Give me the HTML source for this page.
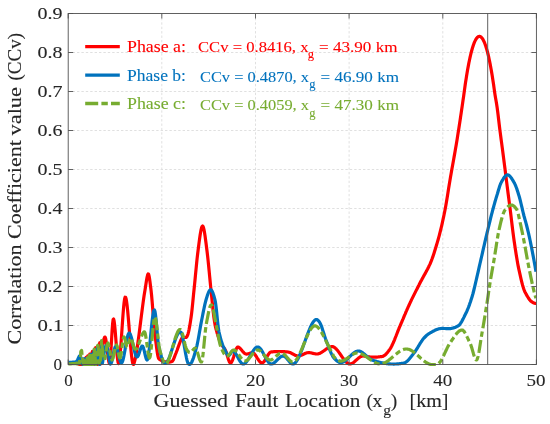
<!DOCTYPE html><html><head><meta charset="utf-8"><title>Correlation Coefficient</title>
<style>html,body{margin:0;padding:0;background:#fff;}svg{display:block}text{font-family:'Liberation Serif','DejaVu Serif',serif;}</style></head><body>
<svg width="550" height="424" viewBox="0 0 550 424">
<rect width="550" height="424" fill="#fff"/>
<g stroke="#e0e0e0" stroke-width="1" stroke-dasharray="2.4,2" fill="none"><line x1="161.8" y1="13.5" x2="161.8" y2="364.5"/><line x1="255.5" y1="13.5" x2="255.5" y2="364.5"/><line x1="349.1" y1="13.5" x2="349.1" y2="364.5"/><line x1="442.8" y1="13.5" x2="442.8" y2="364.5"/><line x1="68.2" y1="325.5" x2="536.4" y2="325.5"/><line x1="68.2" y1="286.5" x2="536.4" y2="286.5"/><line x1="68.2" y1="247.5" x2="536.4" y2="247.5"/><line x1="68.2" y1="208.5" x2="536.4" y2="208.5"/><line x1="68.2" y1="169.5" x2="536.4" y2="169.5"/><line x1="68.2" y1="130.5" x2="536.4" y2="130.5"/><line x1="68.2" y1="91.5" x2="536.4" y2="91.5"/><line x1="68.2" y1="52.5" x2="536.4" y2="52.5"/></g>
<clipPath id="c"><rect x="68.2" y="13.5" width="468.2" height="352.5"/></clipPath>
<g clip-path="url(#c)" fill="none" stroke-linejoin="round">
<path d="M68.2,363.4L69.1,363.4L70.1,363.4L71.0,363.4L71.9,363.3L72.9,363.3L73.8,363.2L74.8,363.1L75.7,363.0L75.8,363.0L75.9,363.0L76.0,362.9L76.1,363.1L76.2,363.1L76.3,362.9L76.3,363.0L76.4,363.2L76.5,362.9L76.6,362.9L76.7,363.2L76.8,363.2L76.9,362.8L77.0,362.9L77.1,363.4L77.2,363.3L77.3,362.8L77.4,362.8L77.5,363.3L77.6,363.6L77.7,363.1L77.8,362.6L77.8,362.9L77.9,363.6L78.0,363.7L78.1,363.0L78.2,362.5L78.3,362.9L78.4,363.7L78.5,364.0L78.6,363.3L78.7,362.5L78.8,362.4L78.9,363.2L79.0,364.1L79.1,364.2L79.2,363.3L79.2,362.3L79.3,362.1L79.4,362.9L79.5,364.0L79.6,364.5L79.7,363.9L79.8,362.8L79.9,361.9L80.0,361.9L80.1,362.8L80.2,363.9L80.3,364.5L80.4,364.1L80.5,363.1L80.6,361.9L80.7,361.4L80.7,361.8L80.8,362.8L80.9,363.9L81.0,364.5L81.1,364.2L81.2,363.2L81.3,362.0L81.4,361.1L81.5,360.9L81.6,361.6L81.7,362.7L81.8,363.8L81.9,364.5L82.0,364.3L82.1,363.5L82.2,362.2L82.2,361.1L82.3,360.4L82.4,360.4L82.5,361.1L82.6,362.3L82.7,363.4L82.8,364.3L82.9,364.5L83.0,364.0L83.1,362.9L83.2,361.6L83.3,360.4L83.4,359.7L83.5,359.5L83.6,360.0L83.7,361.1L83.7,362.3L83.8,363.5L83.9,364.3L84.0,364.5L84.1,364.1L84.2,363.1L84.3,361.9L84.4,360.5L84.5,359.4L84.6,358.7L84.7,358.6L84.8,359.0L84.9,359.9L85.0,361.1L85.1,362.4L85.1,363.5L85.2,364.3L85.3,364.5L85.4,364.2L85.5,363.4L85.6,362.2L85.7,360.8L85.8,359.5L85.9,358.4L86.0,357.6L86.1,357.4L86.2,357.6L86.3,358.3L86.4,359.4L86.5,360.6L86.6,361.9L86.6,363.1L86.7,364.0L86.8,364.4L86.9,364.5L87.0,364.0L87.1,363.2L87.2,362.0L87.3,360.7L87.4,359.3L87.5,358.1L87.6,357.0L87.7,356.3L87.8,356.0L87.9,356.1L88.0,356.6L88.1,357.5L88.1,358.6L88.2,359.9L88.3,361.1L88.4,362.3L88.5,363.4L88.6,364.1L88.7,364.5L88.8,364.5L88.9,364.1L89.0,363.4L89.1,362.3L89.2,361.1L89.3,359.7L89.4,358.4L89.5,357.1L89.5,355.9L89.6,355.0L89.7,354.4L89.8,354.1L89.9,354.2L90.0,354.6L90.1,355.3L90.2,356.2L90.3,357.4L90.4,358.6L90.5,359.9L90.6,361.2L90.7,362.3L90.8,363.2L90.9,364.0L91.0,364.4L91.0,364.5L91.1,364.3L91.2,363.8L91.3,363.0L91.4,362.0L91.5,360.8L91.6,359.5L91.7,358.1L91.8,356.7L91.9,355.4L92.0,354.2L92.1,353.2L92.2,352.3L92.3,351.8L92.4,351.4L92.5,351.4L92.5,351.7L92.6,352.2L92.7,352.9L92.8,353.9L92.9,355.0L93.0,356.2L93.1,357.5L93.2,358.8L93.3,360.0L93.4,361.2L93.5,362.3L93.6,363.1L93.7,363.8L93.8,364.3L93.9,364.5L94.0,364.5L94.0,364.2L94.1,363.7L94.2,362.9L94.3,362.0L94.4,360.9L94.5,359.7L94.6,358.3L94.7,356.9L94.8,355.5L94.9,354.2L95.0,352.8L95.1,351.6L95.2,350.5L95.3,349.6L95.4,348.8L95.4,348.2L95.5,347.9L95.6,347.7L95.7,347.8L95.8,348.1L95.9,348.6L96.0,349.2L96.1,350.1L96.2,351.1L96.3,352.2L96.4,353.3L96.5,354.6L96.6,355.9L96.7,357.2L96.8,358.4L96.9,359.6L96.9,360.7L97.0,361.7L97.1,362.6L97.2,363.3L97.3,363.9L97.4,364.3L97.5,364.5L97.6,364.5L97.7,364.3L97.8,364.0L97.9,363.4L98.0,362.7L98.1,361.9L98.2,360.9L98.3,359.8L98.4,358.6L98.4,357.3L98.5,355.9L98.6,354.6L98.7,353.2L98.8,351.8L98.9,350.4L99.0,349.2L99.1,347.9L99.2,346.8L99.3,345.8L99.4,344.9L99.5,344.1L99.6,343.5L99.7,343.0L99.8,342.7L99.9,342.6L99.9,342.6L100.0,342.8L100.1,343.1L100.2,343.5L100.3,344.1L100.4,344.9L100.5,345.7L100.6,346.7L100.6,364.0L101.1,359.4L101.6,355.0L102.1,350.7L102.6,346.8L103.1,343.4L103.6,340.5L104.1,338.5L104.6,337.3L105.1,337.1L105.6,338.4L106.1,341.1L106.6,344.7L107.1,348.9L107.6,353.3L108.1,357.3L108.6,360.6L109.1,362.8L109.6,363.5L110.1,361.2L110.6,355.5L111.1,347.7L111.6,339.1L112.1,330.7L112.6,323.8L113.1,319.6L113.6,319.0L114.1,321.0L114.6,324.8L115.1,330.0L115.6,336.1L116.1,342.7L116.6,349.1L117.1,354.9L117.6,359.6L118.1,362.6L118.6,363.6L119.1,362.2L119.6,359.1L120.1,354.4L120.6,348.6L121.1,342.0L121.6,334.8L122.1,327.5L122.6,320.3L123.1,313.5L123.6,307.5L124.1,302.5L124.6,299.0L125.1,297.2L125.6,297.3L126.1,298.8L126.6,301.6L127.1,305.5L127.6,310.2L128.1,315.6L128.6,321.5L129.1,327.6L129.6,333.9L130.1,340.0L130.6,345.9L131.1,351.3L131.6,356.0L132.1,359.9L132.6,362.7L133.1,364.3L133.6,364.4L134.1,363.1L134.6,361.4L135.1,359.4L135.6,357.0L136.1,354.3L136.6,351.4L137.1,348.2L137.6,344.9L138.1,341.3L138.6,337.7L139.1,333.9L139.6,330.0L140.1,326.0L140.6,322.0L141.1,318.1L141.6,314.1L142.1,310.2L142.6,306.4L143.1,302.6L143.6,299.1L144.1,295.6L144.6,292.4L145.1,289.4L145.6,286.3L146.1,283.0L146.6,279.8L147.1,277.1L147.6,275.0L148.1,273.9L148.6,274.2L149.1,276.1L149.6,279.0L150.1,282.7L150.6,286.8L151.1,290.8L151.6,295.5L152.1,301.2L152.6,307.3L153.1,313.7L153.6,320.1L154.1,326.1L154.6,331.4L155.1,335.8L155.6,339.9L156.1,343.9L156.6,347.8L157.1,351.3L157.6,354.4L158.1,356.8L158.6,358.4L159.1,359.1L159.6,359.4L160.1,359.7L160.6,360.1L161.1,360.3L161.6,360.6L162.1,360.9L162.6,361.1L163.1,361.3L163.6,361.4L164.1,361.6L164.6,361.6L165.1,361.7L165.6,361.8L166.1,361.8L166.6,361.9L167.1,362.0L167.6,362.0L168.1,362.0L168.6,362.1L169.1,362.1L169.6,362.1L170.1,362.0L170.6,361.9L171.1,361.8L171.6,361.7L172.1,361.4L172.6,361.0L173.1,360.2L173.6,359.2L174.1,357.9L174.6,356.6L175.1,355.3L175.6,354.0L176.1,352.8L176.6,351.5L177.1,350.2L177.6,348.8L178.1,347.4L178.6,346.0L179.1,344.6L179.6,343.3L180.1,342.0L180.6,340.7L181.1,339.6L181.6,338.6L182.1,338.0L182.6,337.5L183.1,337.4L183.6,337.3L184.1,337.4L184.6,337.5L185.1,337.5L185.6,337.5L186.1,337.4L186.6,337.0L187.1,336.3L187.6,335.2L188.1,333.7L188.6,331.7L189.1,329.3L189.6,326.6L190.1,323.7L190.6,320.6L191.1,317.3L191.6,313.5L192.1,309.0L192.6,304.1L193.1,299.0L193.6,293.9L194.1,289.0L194.6,284.1L195.1,279.0L195.6,273.7L196.1,268.6L196.6,263.5L197.1,258.7L197.6,254.3L198.1,250.2L198.6,246.3L199.1,242.4L199.6,238.7L200.1,235.3L200.6,232.2L201.1,229.6L201.6,227.6L202.1,226.4L202.6,226.0L203.1,226.6L203.6,228.0L204.1,230.2L204.6,233.0L205.1,236.3L205.6,240.0L206.1,243.8L206.6,247.8L207.1,251.8L207.6,256.0L208.1,260.7L208.6,265.6L209.1,270.7L209.6,275.9L210.1,281.0L210.6,286.1L211.1,291.0L211.6,295.9L212.1,300.9L212.6,305.9L213.1,310.6L213.6,315.0L214.1,318.7L214.6,322.0L215.1,324.9L215.6,327.4L216.1,329.4L216.6,331.1L217.1,332.9L217.6,334.5L218.1,336.2L218.6,337.7L219.1,339.1L219.6,340.5L220.1,341.7L220.6,342.8L221.1,343.8L221.6,344.6L222.1,345.4L222.6,346.1L223.1,346.8L223.6,347.4L224.1,348.1L224.6,348.9L225.1,349.7L225.6,350.7L226.1,351.9L226.6,353.4L227.1,355.0L227.6,356.7L228.1,358.4L228.6,359.9L229.1,361.2L229.6,362.2L230.1,362.9L230.6,363.0L231.1,362.8L231.6,362.1L232.1,361.1L232.6,359.9L233.1,358.5L233.6,357.0L234.1,355.3L234.6,353.7L235.1,352.1L235.6,350.6L236.1,349.3L236.6,348.3L237.1,347.5L237.6,347.1L238.1,347.0L238.6,347.2L239.1,347.5L239.6,347.9L240.1,348.4L240.6,348.9L241.1,349.5L241.6,350.1L242.1,350.7L242.6,351.3L243.1,351.8L243.6,352.4L244.1,352.9L244.6,353.3L245.1,353.6L245.6,353.9L246.1,354.0L246.6,354.1L247.1,354.0L247.6,354.0L248.1,353.8L248.6,353.7L249.1,353.5L249.6,353.4L250.1,353.2L250.6,353.0L251.1,352.9L251.6,352.9L252.1,352.8L252.6,352.9L253.1,353.0L253.6,353.3L254.1,353.7L254.6,354.2L255.1,354.8L255.6,355.5L256.1,356.2L256.6,357.0L257.1,357.8L257.6,358.6L258.1,359.3L258.6,360.1L259.1,360.8L259.6,361.4L260.1,362.0L260.6,362.4L261.1,362.8L261.6,363.0L262.1,363.0L262.6,362.8L263.1,362.5L263.6,362.1L264.1,361.5L264.6,360.8L265.1,360.0L265.6,359.2L266.1,358.3L266.6,357.4L267.1,356.5L267.6,355.6L268.1,354.8L268.6,354.1L269.1,353.4L269.6,352.8L270.1,352.4L270.6,352.1L271.1,352.0L271.6,351.9L272.1,351.9L272.6,351.8L273.1,351.8L273.6,351.7L274.1,351.7L274.6,351.6L275.1,351.6L275.6,351.6L276.1,351.6L276.6,351.5L277.1,351.5L277.6,351.5L278.1,351.5L278.6,351.5L279.1,351.5L279.6,351.5L280.1,351.5L280.6,351.5L281.1,351.5L281.6,351.6L282.1,351.6L282.6,351.6L283.1,351.6L283.6,351.7L284.1,351.7L284.6,351.7L285.1,351.7L285.6,351.8L286.1,351.8L286.6,351.9L287.1,351.9L287.6,352.0L288.1,352.0L288.6,352.1L289.1,352.2L289.6,352.4L290.1,352.6L290.6,352.8L291.1,353.1L291.6,353.3L292.1,353.6L292.6,353.9L293.1,354.1L293.6,354.4L294.1,354.7L294.6,355.0L295.1,355.2L295.6,355.4L296.1,355.6L296.6,355.8L297.1,355.9L297.6,356.0L298.1,356.0L298.6,356.0L299.1,355.9L299.6,355.8L300.1,355.7L300.6,355.5L301.1,355.3L301.6,355.1L302.1,354.9L302.6,354.7L303.1,354.4L303.6,354.2L304.1,353.9L304.6,353.7L305.1,353.5L305.6,353.2L306.1,353.1L306.6,352.9L307.1,352.8L307.6,352.7L308.1,352.6L308.6,352.6L309.1,352.6L309.6,352.6L310.1,352.7L310.6,352.8L311.1,352.9L311.6,353.0L312.1,353.1L312.6,353.2L313.1,353.4L313.6,353.5L314.1,353.6L314.6,353.7L315.1,353.8L315.6,353.9L316.1,354.0L316.6,354.0L317.1,354.0L317.6,354.0L318.1,353.9L318.6,353.8L319.1,353.6L319.6,353.4L320.1,353.2L320.6,352.9L321.1,352.6L321.6,352.3L322.1,352.0L322.6,351.7L323.1,351.3L323.6,351.0L324.1,350.6L324.6,350.3L325.1,349.9L325.6,349.5L326.1,349.2L326.6,348.8L327.1,348.5L327.6,348.2L328.1,347.9L328.6,347.6L329.1,347.4L329.6,347.2L330.1,347.0L330.6,346.8L331.1,346.7L331.6,346.6L332.1,346.6L332.6,346.6L333.1,346.8L333.6,347.0L334.1,347.2L334.6,347.5L335.1,347.9L335.6,348.4L336.1,348.8L336.6,349.4L337.1,350.0L337.6,350.6L338.1,351.2L338.6,351.9L339.1,352.6L339.6,353.3L340.1,354.0L340.6,354.7L341.1,355.5L341.6,356.2L342.1,356.9L342.6,357.6L343.1,358.3L343.6,359.0L344.1,359.7L344.6,360.3L345.1,360.9L345.6,361.4L346.1,362.0L346.6,362.4L347.1,362.8L347.6,363.2L348.1,363.5L348.6,363.7L349.1,363.9L349.6,364.0L350.1,364.0L350.6,363.9L351.1,363.8L351.6,363.6L352.1,363.4L352.6,363.1L353.1,362.8L353.6,362.4L354.1,362.0L354.6,361.6L355.1,361.2L355.6,360.7L356.1,360.2L356.6,359.8L357.1,359.3L357.6,358.9L358.1,358.4L358.6,358.0L359.1,357.6L359.6,357.3L360.1,356.9L360.6,356.6L361.1,356.4L361.6,356.2L362.1,356.1L362.6,356.0L363.1,356.0L363.6,356.0L364.1,356.1L364.6,356.1L365.1,356.2L365.6,356.3L366.1,356.4L366.6,356.4L367.1,356.5L367.6,356.6L368.1,356.7L368.6,356.8L369.1,356.9L369.6,356.9L370.1,357.0L370.6,357.1L371.1,357.1L371.6,357.2L372.1,357.2L372.6,357.2L373.1,357.2L373.6,357.2L374.1,357.2L374.6,357.2L375.1,357.2L375.6,357.2L376.1,357.1L376.6,357.1L377.1,357.1L377.6,357.0L378.1,357.0L378.6,356.9L379.1,356.9L379.6,356.8L380.1,356.7L380.6,356.7L381.1,356.6L381.6,356.6L382.1,356.5L382.6,356.4L383.1,356.2L383.6,356.0L384.1,355.7L384.6,355.3L385.1,354.9L385.6,354.5L386.1,354.0L386.6,353.4L387.1,352.9L387.6,352.3L388.1,351.6L388.6,351.0L389.1,350.3L389.6,349.6L390.1,348.9L390.6,348.1L391.1,347.2L391.6,346.3L392.1,345.3L392.6,344.2L393.1,343.1L393.6,342.0L394.1,340.8L394.6,339.6L395.1,338.3L395.6,337.0L396.1,335.8L396.6,334.5L397.1,333.2L397.6,331.9L398.1,330.6L398.6,329.4L399.1,328.1L399.6,326.9L400.1,325.8L400.6,324.6L401.1,323.5L401.6,322.3L402.1,321.1L402.6,319.9L403.1,318.8L403.6,317.6L404.1,316.4L404.6,315.2L405.1,314.1L405.6,312.9L406.1,311.7L406.6,310.6L407.1,309.4L407.6,308.3L408.1,307.2L408.6,306.1L409.1,305.0L409.6,303.9L410.1,302.8L410.6,301.7L411.1,300.7L411.6,299.6L412.1,298.6L412.6,297.6L413.1,296.6L413.6,295.6L414.1,294.6L414.6,293.6L415.1,292.6L415.6,291.6L416.1,290.6L416.6,289.6L417.1,288.7L417.6,287.7L418.1,286.7L418.6,285.7L419.1,284.8L419.6,283.8L420.1,282.8L420.6,281.8L421.1,280.9L421.6,280.0L422.1,279.0L422.6,278.1L423.1,277.2L423.6,276.3L424.1,275.4L424.6,274.5L425.1,273.6L425.6,272.7L426.1,271.8L426.6,270.9L427.1,269.9L427.6,269.0L428.1,268.0L428.6,267.0L429.1,265.9L429.6,264.9L430.1,263.8L430.6,262.6L431.1,261.4L431.6,260.1L432.1,258.8L432.6,257.4L433.1,255.9L433.6,254.4L434.1,252.9L434.6,251.3L435.1,249.7L435.6,248.1L436.1,246.5L436.6,244.8L437.1,243.1L437.6,241.4L438.1,239.7L438.6,237.9L439.1,236.1L439.6,234.2L440.1,232.2L440.6,230.2L441.1,228.1L441.6,226.0L442.1,223.8L442.6,221.5L443.1,219.2L443.6,216.9L444.1,214.5L444.6,212.0L445.1,209.5L445.6,206.8L446.1,204.0L446.6,201.1L447.1,198.0L447.6,194.9L448.1,191.7L448.6,188.6L449.1,185.4L449.6,182.4L450.1,179.4L450.6,176.5L451.1,173.7L451.6,170.8L452.1,168.0L452.6,165.2L453.1,162.5L453.6,159.7L454.1,156.9L454.6,154.1L455.1,151.2L455.6,148.3L456.1,145.4L456.6,142.4L457.1,139.4L457.6,136.3L458.1,133.1L458.6,130.0L459.1,126.7L459.6,123.5L460.1,120.2L460.6,116.8L461.1,113.5L461.6,110.1L462.1,106.7L462.6,103.2L463.1,99.8L463.6,96.4L464.1,92.8L464.6,89.1L465.1,85.5L465.6,82.1L466.1,78.9L466.6,75.7L467.1,72.7L467.6,69.8L468.1,67.1L468.6,64.4L469.1,61.8L469.6,59.5L470.1,57.2L470.6,55.0L471.1,52.9L471.6,51.0L472.1,49.2L472.6,47.5L473.1,45.9L473.6,44.5L474.1,43.1L474.6,41.9L475.1,40.9L475.6,39.9L476.1,39.0L476.6,38.3L477.1,37.7L477.6,37.2L478.1,36.8L478.6,36.6L479.1,36.4L479.6,36.4L480.1,36.5L480.6,36.7L481.1,37.1L481.6,37.6L482.1,38.1L482.6,38.9L483.1,39.7L483.6,40.7L484.1,41.7L484.6,42.9L485.1,44.2L485.6,45.6L486.1,47.2L486.6,48.9L487.1,50.6L487.6,52.5L488.1,54.5L488.6,56.7L489.1,59.0L489.6,61.4L490.1,63.9L490.6,66.5L491.1,69.3L491.6,72.1L492.1,75.1L492.6,78.2L493.1,81.5L493.6,84.8L494.1,88.4L494.6,92.0L495.1,95.3L495.6,98.2L496.1,101.0L496.6,103.9L497.1,107.2L497.6,111.0L498.1,115.0L498.6,119.3L499.1,123.5L499.6,127.7L500.1,131.6L500.6,135.4L501.1,139.2L501.6,142.9L502.1,146.6L502.6,150.4L503.1,154.2L503.6,158.1L504.1,162.0L504.6,165.9L505.1,169.8L505.6,173.7L506.1,177.7L506.6,181.6L507.1,185.6L507.6,189.5L508.1,193.5L508.6,197.3L509.1,201.1L509.6,204.9L510.1,208.8L510.6,212.8L511.1,216.9L511.6,221.1L512.1,225.3L512.6,229.4L513.1,233.3L513.6,237.1L514.1,240.7L514.6,244.1L515.1,247.5L515.6,250.8L516.1,254.0L516.6,257.1L517.1,260.1L517.6,263.0L518.1,265.6L518.6,268.1L519.1,270.4L519.6,272.7L520.1,274.9L520.6,277.1L521.1,279.3L521.6,281.3L522.1,283.3L522.6,285.2L523.1,286.9L523.6,288.5L524.1,289.9L524.6,291.2L525.1,292.2L525.6,293.1L526.1,294.1L526.6,295.0L527.1,295.9L527.6,296.7L528.1,297.5L528.6,298.3L529.1,299.0L529.6,299.7L530.1,300.3L530.6,300.9L531.1,301.3L531.6,301.7L532.1,302.1L532.6,302.3L533.1,302.6L533.6,302.9L534.1,303.1L534.6,303.3L535.1,303.4L535.6,303.5L536.1,303.5" stroke="#ff0000" stroke-width="3.2"/>
<path d="M68.2,362.4L69.1,362.4L70.1,362.4L71.0,362.3L71.9,362.3L72.9,362.2L73.8,362.1L74.8,362.0L75.7,361.8L75.8,361.9L75.9,361.8L76.0,361.8L76.1,361.9L76.2,361.6L76.3,361.8L76.3,362.0L76.4,361.5L76.5,361.5L76.6,362.0L76.7,361.6L76.8,361.0L76.9,361.5L77.0,361.8L77.1,361.0L77.2,360.6L77.3,361.3L77.4,361.5L77.5,360.5L77.6,359.9L77.7,360.6L77.8,361.1L77.8,360.2L77.9,359.0L78.0,359.2L78.1,360.3L78.2,360.3L78.3,358.9L78.4,357.8L78.5,358.3L78.6,359.6L78.7,359.8L78.8,358.4L78.9,356.9L79.0,356.9L79.1,358.4L79.2,359.6L79.2,359.2L79.3,357.4L79.4,356.1L79.5,356.5L79.6,358.3L79.7,359.8L79.8,359.7L79.9,358.2L80.0,356.6L80.1,356.3L80.2,357.5L80.3,359.5L80.4,360.8L80.5,360.6L80.6,359.3L80.7,357.7L80.7,357.2L80.8,358.0L80.9,359.9L81.0,361.6L81.1,362.4L81.2,361.9L81.3,360.4L81.4,359.0L81.5,358.4L81.6,358.9L81.7,360.5L81.8,362.2L81.9,363.5L82.0,363.6L82.1,362.8L82.2,361.3L82.2,359.9L82.3,359.1L82.4,359.4L82.5,360.5L82.6,362.1L82.7,363.5L82.8,364.3L82.9,364.1L83.0,363.2L83.1,361.8L83.2,360.4L83.3,359.4L83.4,359.2L83.5,359.8L83.6,361.0L83.7,362.4L83.7,363.7L83.8,364.4L83.9,364.4L84.0,363.7L84.1,362.5L84.2,361.2L84.3,360.0L84.4,359.2L84.5,359.0L84.6,359.5L84.7,360.5L84.8,361.7L84.9,363.0L85.0,364.0L85.1,364.5L85.1,364.4L85.2,363.8L85.3,362.8L85.4,361.5L85.5,360.3L85.6,359.4L85.7,358.8L85.8,358.7L85.9,359.1L86.0,359.9L86.1,361.0L86.2,362.2L86.3,363.3L86.4,364.1L86.5,364.5L86.6,364.4L86.6,364.0L86.7,363.1L86.8,362.1L86.9,360.9L87.0,359.8L87.1,358.9L87.2,358.3L87.3,358.1L87.4,358.3L87.5,358.8L87.6,359.7L87.7,360.7L87.8,361.8L87.9,362.8L88.0,363.7L88.1,364.2L88.1,364.5L88.2,364.4L88.3,363.9L88.4,363.1L88.5,362.1L88.6,361.0L88.7,359.8L88.8,358.7L88.9,357.8L89.0,357.1L89.1,356.8L89.2,356.7L89.3,357.0L89.4,357.6L89.5,358.5L89.5,359.5L89.6,360.6L89.7,361.7L89.8,362.7L89.9,363.6L90.0,364.1L90.1,364.5L90.2,364.5L90.3,364.1L90.4,363.5L90.5,362.7L90.6,361.6L90.7,360.4L90.8,359.1L90.9,357.9L91.0,356.8L91.0,355.8L91.1,355.0L91.2,354.5L91.3,354.3L91.4,354.4L91.5,354.8L91.6,355.4L91.7,356.2L91.8,357.3L91.9,358.4L92.0,359.6L92.1,360.8L92.2,361.9L92.3,362.9L92.4,363.6L92.5,364.2L92.5,364.5L92.6,364.5L92.7,364.2L92.8,363.7L92.9,362.9L93.0,361.9L93.1,360.8L93.2,359.5L93.3,358.2L93.4,356.9L93.5,355.6L93.6,354.3L93.7,353.3L93.8,352.4L93.9,351.7L94.0,351.2L94.0,351.0L94.1,351.1L94.2,351.4L94.3,351.9L94.4,352.7L94.5,353.6L94.6,354.6L94.7,355.8L94.8,357.1L94.9,358.3L95.0,359.5L95.1,360.7L95.2,361.8L95.3,362.7L95.4,363.4L95.4,364.0L95.5,364.4L95.6,364.5L95.7,364.4L95.8,364.1L95.9,363.6L96.0,362.9L96.1,362.0L96.2,361.0L96.3,359.9L96.4,358.6L96.5,357.4L96.6,356.1L96.7,354.8L96.8,353.5L96.9,352.4L96.9,351.3L97.0,350.3L97.1,349.5L97.2,348.9L97.3,348.4L97.4,348.1L97.5,348.0L97.6,348.1L97.7,348.4L97.8,348.8L97.9,349.5L98.0,350.2L98.1,351.1L98.2,352.1L98.3,353.1L98.4,354.2L98.4,355.4L98.5,356.6L98.6,357.7L98.7,358.9L98.8,359.9L98.9,360.9L99.0,361.8L99.1,362.6L99.2,363.3L99.3,363.8L99.4,364.2L99.5,364.4L99.6,364.5L99.7,364.4L99.8,364.2L99.9,363.8L99.9,363.3L100.0,362.7L100.1,361.9L100.2,361.1L100.3,360.1L100.4,359.1L100.5,358.0L100.6,356.9L100.7,355.7L100.8,354.6L100.9,353.4L101.0,352.3L101.1,351.3L101.2,350.2L101.3,349.3L101.3,348.4L101.4,347.7L101.5,347.0L101.6,346.4L101.7,346.0L101.8,345.7L101.9,345.5L102.0,345.4L102.1,345.4L102.2,345.6L102.3,345.9L102.4,346.3L102.5,346.8L102.5,363.0L103.0,359.8L103.5,356.6L104.0,353.6L104.5,350.8L105.0,348.5L105.5,346.7L106.0,345.7L106.5,345.5L107.0,346.3L107.5,348.3L108.0,351.1L108.5,354.4L109.0,357.7L109.5,360.7L110.0,362.9L110.5,364.0L111.0,363.7L111.5,362.5L112.0,360.7L112.5,358.5L113.0,356.0L113.5,353.4L114.0,351.0L114.5,348.9L115.0,347.3L115.5,346.5L116.0,346.5L116.5,347.3L117.0,348.5L117.5,350.2L118.0,352.2L118.5,354.3L119.0,356.5L119.5,358.5L120.0,360.3L120.5,361.7L121.0,362.7L121.5,363.0L122.0,362.6L122.5,361.6L123.0,360.0L123.5,357.9L124.0,355.5L124.5,352.8L125.0,350.0L125.5,347.1L126.0,344.2L126.5,341.4L127.0,338.9L127.5,336.7L128.0,334.9L128.5,333.7L129.0,333.1L129.5,333.1L130.0,333.7L130.5,334.8L131.0,336.2L131.5,338.0L132.0,340.0L132.5,342.2L133.0,344.5L133.5,346.8L134.0,349.0L134.5,351.1L135.0,353.0L135.5,354.6L136.0,355.9L136.5,356.7L137.0,357.0L137.5,356.8L138.0,356.1L138.5,355.0L139.0,353.6L139.5,352.1L140.0,350.6L140.5,349.1L141.0,347.8L141.5,346.8L142.0,346.1L142.5,346.0L143.0,346.7L143.5,348.1L144.0,349.9L144.5,352.0L145.0,354.2L145.5,356.3L146.0,358.1L146.5,359.4L147.0,360.0L147.5,359.5L148.0,357.8L148.5,355.1L149.0,351.4L149.5,347.1L150.0,342.3L150.5,337.2L151.0,332.0L151.5,327.0L152.0,322.2L152.5,318.0L153.0,314.5L153.5,311.8L154.0,310.3L154.5,310.0L155.0,311.5L155.5,314.7L156.0,319.2L156.5,324.5L157.0,330.3L157.5,335.9L158.0,341.1L158.5,345.2L159.0,348.0L159.5,349.9L160.0,351.8L160.5,353.6L161.0,355.3L161.5,357.0L162.0,358.5L162.5,359.9L163.0,361.1L163.5,362.0L164.0,362.8L164.5,363.3L165.0,363.5L165.5,363.5L166.0,363.2L166.5,362.7L167.0,362.0L167.5,361.2L168.0,360.3L168.5,359.2L169.0,358.1L169.5,356.8L170.0,355.5L170.5,354.1L171.0,352.6L171.5,351.1L172.0,349.5L172.5,348.0L173.0,346.4L173.5,344.9L174.0,343.4L174.5,341.9L175.0,340.4L175.5,339.1L176.0,337.8L176.5,336.6L177.0,335.5L177.5,334.5L178.0,333.7L178.5,333.0L179.0,332.5L179.5,332.1L180.0,331.9L180.5,332.0L181.0,332.3L181.5,333.3L182.0,334.8L182.5,336.7L183.0,339.0L183.5,341.6L184.0,344.3L184.5,347.2L185.0,350.0L185.5,352.9L186.0,355.5L186.5,358.0L187.0,360.2L187.5,361.9L188.0,363.2L188.5,364.0L189.0,364.3L189.5,364.4L190.0,364.2L190.5,363.9L191.0,363.3L191.5,362.5L192.0,361.6L192.5,360.4L193.0,359.2L193.5,357.8L194.0,356.2L194.5,354.6L195.0,352.9L195.5,351.1L196.0,349.2L196.5,347.3L197.0,345.3L197.5,343.0L198.0,340.5L198.5,337.8L199.0,335.0L199.5,332.1L200.0,329.2L200.5,326.3L201.0,323.6L201.5,321.0L202.0,318.5L202.5,316.0L203.0,313.4L203.5,310.9L204.0,308.5L204.5,306.1L205.0,303.9L205.5,301.9L206.0,300.0L206.5,298.3L207.0,296.7L207.5,295.1L208.0,293.7L208.5,292.5L209.0,291.4L209.5,290.6L210.0,290.0L210.5,289.7L211.0,289.8L211.5,290.2L212.0,291.0L212.5,292.0L213.0,293.2L213.5,294.7L214.0,296.3L214.5,298.1L215.0,300.0L215.5,302.6L216.0,306.3L216.5,310.8L217.0,315.7L217.5,320.6L218.0,325.2L218.5,329.1L219.0,332.0L219.5,334.2L220.0,336.2L220.5,338.1L221.0,339.9L221.5,341.6L222.0,343.1L222.5,344.5L223.0,345.8L223.5,347.0L224.0,348.0L224.5,349.0L225.0,350.1L225.5,351.2L226.0,352.2L226.5,353.2L227.0,354.1L227.5,354.8L228.0,355.2L228.5,355.5L229.0,355.4L229.5,355.0L230.0,354.4L230.5,353.7L231.0,352.9L231.5,352.1L232.0,351.5L232.5,351.1L233.0,351.0L233.5,351.2L234.0,351.5L234.5,352.0L235.0,352.6L235.5,353.3L236.0,354.1L236.5,354.9L237.0,355.8L237.5,356.7L238.0,357.6L238.5,358.6L239.0,359.5L239.5,360.4L240.0,361.2L240.5,361.9L241.0,362.6L241.5,363.1L242.0,363.6L242.5,363.9L243.0,364.0L243.5,364.0L244.0,363.9L244.5,363.6L245.0,363.3L245.5,362.9L246.0,362.3L246.5,361.8L247.0,361.1L247.5,360.4L248.0,359.6L248.5,358.8L249.0,358.0L249.5,357.2L250.0,356.3L250.5,355.4L251.0,354.5L251.5,353.7L252.0,352.8L252.5,352.0L253.0,351.2L253.5,350.4L254.0,349.7L254.5,349.1L255.0,348.5L255.5,348.0L256.0,347.6L256.5,347.3L257.0,347.1L257.5,347.0L258.0,347.0L258.5,347.1L259.0,347.4L259.5,347.8L260.0,348.3L260.5,348.8L261.0,349.5L261.5,350.2L262.0,351.0L262.5,351.9L263.0,352.8L263.5,353.7L264.0,354.7L264.5,355.6L265.0,356.6L265.5,357.5L266.0,358.4L266.5,359.3L267.0,360.1L267.5,360.9L268.0,361.6L268.5,362.3L269.0,362.8L269.5,363.3L270.0,363.7L270.5,363.9L271.0,364.0L271.5,364.0L272.0,363.9L272.5,363.8L273.0,363.5L273.5,363.3L274.0,362.9L274.5,362.5L275.0,362.1L275.5,361.7L276.0,361.2L276.5,360.7L277.0,360.2L277.5,359.7L278.0,359.2L278.5,358.7L279.0,358.3L279.5,357.8L280.0,357.4L280.5,357.0L281.0,356.7L281.5,356.4L282.0,356.2L282.5,356.1L283.0,356.0L283.5,356.0L284.0,356.2L284.5,356.4L285.0,356.8L285.5,357.2L286.0,357.7L286.5,358.2L287.0,358.8L287.5,359.4L288.0,360.0L288.5,360.6L289.0,361.2L289.5,361.8L290.0,362.4L290.5,362.8L291.0,363.3L291.5,363.6L292.0,363.8L292.5,364.0L293.0,364.0L293.5,363.9L294.0,363.7L294.5,363.4L295.0,363.0L295.5,362.5L296.0,361.9L296.5,361.2L297.0,360.4L297.5,359.6L298.0,358.7L298.5,357.7L299.0,356.6L299.5,355.5L300.0,354.4L300.5,353.2L301.0,352.0L301.5,350.7L302.0,349.4L302.5,348.1L303.0,346.7L303.5,345.3L304.0,343.9L304.5,342.6L305.0,341.2L305.5,339.8L306.0,338.4L306.5,337.0L307.0,335.6L307.5,334.3L308.0,333.0L308.5,331.7L309.0,330.5L309.5,329.3L310.0,328.1L310.5,327.0L311.0,325.9L311.5,324.9L312.0,324.0L312.5,323.1L313.0,322.3L313.5,321.6L314.0,321.0L314.5,320.4L315.0,320.0L315.5,319.7L316.0,319.5L316.5,319.5L317.0,319.6L317.5,319.9L318.0,320.3L318.5,320.8L319.0,321.4L319.5,322.2L320.0,323.0L320.5,324.0L321.0,325.1L321.5,326.4L322.0,327.8L322.5,329.4L323.0,330.9L323.5,332.5L324.0,334.1L324.5,335.7L325.0,337.2L325.5,338.7L326.0,340.0L326.5,341.3L327.0,342.6L327.5,343.9L328.0,345.2L328.5,346.6L329.0,347.9L329.5,349.2L330.0,350.4L330.5,351.7L331.0,352.8L331.5,353.9L332.0,354.9L332.5,355.9L333.0,356.7L333.5,357.4L334.0,358.0L334.5,358.5L335.0,359.0L335.5,359.5L336.0,360.0L336.5,360.5L337.0,360.9L337.5,361.3L338.0,361.6L338.5,361.9L339.0,362.2L339.5,362.4L340.0,362.5L340.5,362.6L341.0,362.6L341.5,362.6L342.0,362.5L342.5,362.3L343.0,362.1L343.5,361.9L344.0,361.6L344.5,361.3L345.0,360.9L345.5,360.5L346.0,360.1L346.5,359.7L347.0,359.2L347.5,358.8L348.0,358.3L348.5,357.8L349.0,357.3L349.5,356.8L350.0,356.3L350.5,355.9L351.0,355.4L351.5,354.9L352.0,354.4L352.5,354.0L353.0,353.6L353.5,353.2L354.0,352.8L354.5,352.4L355.0,352.1L355.5,351.8L356.0,351.6L356.5,351.4L357.0,351.2L357.5,351.1L358.0,351.0L358.5,351.0L359.0,351.0L359.5,351.1L360.0,351.2L360.5,351.4L361.0,351.7L361.5,351.9L362.0,352.3L362.5,352.6L363.0,353.0L363.5,353.4L364.0,353.8L364.5,354.2L365.0,354.7L365.5,355.1L366.0,355.6L366.5,356.1L367.0,356.5L367.5,357.0L368.0,357.4L368.5,357.8L369.0,358.2L369.5,358.6L370.0,359.0L370.5,359.3L371.0,359.6L371.5,359.8L372.0,360.0L372.5,360.2L373.0,360.3L373.5,360.5L374.0,360.7L374.5,360.8L375.0,361.0L375.5,361.1L376.0,361.3L376.5,361.4L377.0,361.6L377.5,361.7L378.0,361.8L378.5,362.0L379.0,362.1L379.5,362.2L380.0,362.4L380.5,362.5L381.0,362.6L381.5,362.7L382.0,362.8L382.5,362.9L383.0,363.0L383.5,363.1L384.0,363.2L384.5,363.3L385.0,363.3L385.5,363.4L386.0,363.5L386.5,363.6L387.0,363.6L387.5,363.7L388.0,363.8L388.5,363.8L389.0,363.8L389.5,363.9L390.0,363.9L390.5,364.0L391.0,364.0L391.5,364.0L392.0,364.0L392.5,364.0L393.0,364.0L393.5,364.1L394.0,364.1L394.5,364.0L395.0,364.0L395.5,364.0L396.0,364.0L396.5,364.0L397.0,363.9L397.5,363.9L398.0,363.9L398.5,363.8L399.0,363.8L399.5,363.7L400.0,363.7L400.5,363.6L401.0,363.5L401.5,363.4L402.0,363.4L402.5,363.3L403.0,363.2L403.5,363.1L404.0,363.0L404.5,362.9L405.0,362.7L405.5,362.4L406.0,362.1L406.5,361.7L407.0,361.3L407.5,360.9L408.0,360.4L408.5,359.8L409.0,359.3L409.5,358.7L410.0,358.1L410.5,357.5L411.0,356.8L411.5,356.2L412.0,355.5L412.5,354.9L413.0,354.3L413.5,353.6L414.0,353.0L414.5,352.4L415.0,351.7L415.5,351.0L416.0,350.2L416.5,349.4L417.0,348.6L417.5,347.8L418.0,347.0L418.5,346.2L419.0,345.3L419.5,344.5L420.0,343.7L420.5,342.8L421.0,342.1L421.5,341.3L422.0,340.6L422.5,339.8L423.0,339.2L423.5,338.6L424.0,338.0L424.5,337.5L425.0,337.0L425.5,336.5L426.0,336.0L426.5,335.5L427.0,335.1L427.5,334.7L428.0,334.3L428.5,333.9L429.0,333.6L429.5,333.3L430.0,333.0L430.5,332.7L431.0,332.4L431.5,332.2L432.0,331.9L432.5,331.6L433.0,331.3L433.5,331.1L434.0,330.8L434.5,330.5L435.0,330.3L435.5,330.1L436.0,329.8L436.5,329.6L437.0,329.4L437.5,329.2L438.0,329.1L438.5,328.9L439.0,328.8L439.5,328.7L440.0,328.6L440.5,328.5L441.0,328.5L441.5,328.5L442.0,328.4L442.5,328.4L443.0,328.4L443.5,328.4L444.0,328.5L444.5,328.5L445.0,328.5L445.5,328.5L446.0,328.6L446.5,328.6L447.0,328.6L447.5,328.6L448.0,328.6L448.5,328.7L449.0,328.6L449.5,328.6L450.0,328.6L450.5,328.6L451.0,328.5L451.5,328.4L452.0,328.3L452.5,328.2L453.0,328.0L453.5,327.9L454.0,327.7L454.5,327.5L455.0,327.4L455.5,327.2L456.0,326.9L456.5,326.7L457.0,326.5L457.5,326.2L458.0,326.0L458.5,325.7L459.0,325.3L459.5,324.8L460.0,324.1L460.5,323.5L461.0,322.7L461.5,321.9L462.0,321.0L462.5,320.0L463.0,319.1L463.5,318.1L464.0,317.1L464.5,316.0L465.0,315.0L465.5,314.0L466.0,313.0L466.5,312.0L467.0,310.9L467.5,309.7L468.0,308.5L468.5,307.3L469.0,305.9L469.5,304.6L470.0,303.1L470.5,301.7L471.0,300.1L471.5,298.6L472.0,297.0L472.5,295.3L473.0,293.5L473.5,291.5L474.0,289.5L474.5,287.4L475.0,285.3L475.5,283.1L476.0,281.0L476.5,278.9L477.0,276.7L477.5,274.5L478.0,272.3L478.5,270.1L479.0,267.9L479.5,265.7L480.0,263.5L480.5,261.3L481.0,259.1L481.5,257.0L482.0,254.8L482.5,252.6L483.0,250.4L483.5,248.2L484.0,246.1L484.5,243.9L485.0,241.7L485.5,239.6L486.0,237.4L486.5,235.3L487.0,233.2L487.5,231.1L488.0,229.0L488.5,226.9L489.0,224.9L489.5,222.8L490.0,220.8L490.5,218.7L491.0,216.7L491.5,214.7L492.0,212.8L492.5,210.9L493.0,209.0L493.5,207.2L494.0,205.4L494.5,203.6L495.0,201.8L495.5,200.1L496.0,198.4L496.5,196.8L497.0,195.1L497.5,193.5L498.0,191.7L498.5,190.0L499.0,188.4L499.5,186.8L500.0,185.3L500.5,184.0L501.0,182.9L501.5,181.9L502.0,181.0L502.5,180.1L503.0,179.3L503.5,178.4L504.0,177.7L504.5,177.0L505.0,176.4L505.5,175.9L506.0,175.5L506.5,175.2L507.0,175.0L507.5,174.9L508.0,174.9L508.5,175.1L509.0,175.4L509.5,175.8L510.0,176.3L510.5,176.9L511.0,177.5L511.5,178.3L512.0,179.0L512.5,179.8L513.0,180.6L513.5,181.5L514.0,182.4L514.5,183.2L515.0,184.3L515.5,185.4L516.0,186.7L516.5,188.0L517.0,189.4L517.5,191.0L518.0,192.5L518.5,194.2L519.0,195.8L519.5,197.5L520.0,199.4L520.5,201.4L521.0,203.5L521.5,205.6L522.0,207.7L522.5,209.9L523.0,212.0L523.5,214.0L524.0,216.0L524.5,217.8L525.0,219.6L525.5,221.3L526.0,223.1L526.5,225.0L527.0,227.0L527.5,229.0L528.0,231.1L528.5,233.2L529.0,235.4L529.5,237.7L530.0,240.0L530.5,242.4L531.0,244.8L531.5,247.3L532.0,249.9L532.5,252.5L533.0,255.1L533.5,257.8L534.0,260.5L534.5,263.3L535.0,266.0L535.5,268.9L536.0,271.7" stroke="#0072bd" stroke-width="3.2"/>
<path d="M68.2,363.8L69.1,363.8L70.1,363.8L71.0,363.8L71.9,363.7L72.9,363.7L73.8,363.7L74.8,363.6L75.7,363.6L75.8,363.6L75.9,363.6L76.0,363.5L76.1,363.6L76.2,363.6L76.3,363.5L76.3,363.6L76.4,363.7L76.5,363.5L76.6,363.6L76.7,363.8L76.8,363.6L76.9,363.5L77.0,363.7L77.1,363.8L77.2,363.5L77.3,363.5L77.4,363.8L77.5,363.9L77.6,363.5L77.7,363.4L77.8,363.8L77.8,364.0L77.9,363.7L78.0,363.3L78.1,363.5L78.2,364.0L78.3,364.0L78.4,363.5L78.5,363.2L78.6,363.5L78.7,364.0L78.8,364.1L78.9,363.5L79.0,362.9L79.1,362.8L79.2,363.3L79.2,363.7L79.3,363.3L79.4,362.4L79.5,361.5L79.6,361.3L79.7,361.6L79.8,361.7L79.9,361.1L80.0,359.9L80.1,358.5L80.2,357.5L80.3,357.1L80.4,357.0L80.5,356.7L80.6,355.8L80.7,354.4L80.7,352.9L80.8,351.8L80.9,351.4L81.0,351.6L81.1,352.0L81.2,352.1L81.3,351.8L81.4,351.2L81.5,350.6L81.6,350.4L81.7,351.0L81.8,352.1L81.9,353.6L82.0,355.0L82.1,355.9L82.2,356.4L82.2,356.5L82.3,356.4L82.4,356.6L82.5,357.3L82.6,358.4L82.7,359.7L82.8,361.1L82.9,362.1L83.0,362.6L83.1,362.6L83.2,362.1L83.3,361.5L83.4,361.0L83.5,360.8L83.6,361.1L83.7,361.8L83.7,362.7L83.8,363.5L83.9,364.2L84.0,364.4L84.1,364.2L84.2,363.5L84.3,362.7L84.4,361.8L84.5,361.0L84.6,360.7L84.7,360.7L84.8,361.2L84.9,362.0L85.0,362.9L85.1,363.7L85.1,364.3L85.2,364.5L85.3,364.2L85.4,363.6L85.5,362.6L85.6,361.6L85.7,360.6L85.8,359.8L85.9,359.4L86.0,359.4L86.1,359.9L86.2,360.7L86.3,361.7L86.4,362.7L86.5,363.6L86.6,364.3L86.6,364.5L86.7,364.3L86.8,363.7L86.9,362.8L87.0,361.7L87.1,360.4L87.2,359.3L87.3,358.4L87.4,357.8L87.5,357.6L87.6,357.9L87.7,358.5L87.8,359.4L87.9,360.6L88.0,361.7L88.1,362.8L88.1,363.7L88.2,364.3L88.3,364.5L88.4,364.3L88.5,363.7L88.6,362.8L88.7,361.6L88.8,360.2L88.9,358.9L89.0,357.6L89.1,356.5L89.2,355.8L89.3,355.4L89.4,355.4L89.5,355.7L89.5,356.4L89.6,357.4L89.7,358.6L89.8,359.9L89.9,361.2L90.0,362.4L90.1,363.4L90.2,364.1L90.3,364.5L90.4,364.5L90.5,364.1L90.6,363.4L90.7,362.4L90.8,361.1L90.9,359.7L91.0,358.2L91.0,356.8L91.1,355.4L91.2,354.3L91.3,353.4L91.4,352.8L91.5,352.5L91.6,352.6L91.7,353.0L91.8,353.7L91.9,354.7L92.0,355.9L92.1,357.2L92.2,358.6L92.3,360.0L92.4,361.2L92.5,362.4L92.5,363.3L92.6,364.0L92.7,364.4L92.8,364.5L92.9,364.3L93.0,363.7L93.1,362.9L93.2,361.9L93.3,360.6L93.4,359.2L93.5,357.7L93.6,356.2L93.7,354.7L93.8,353.3L93.9,352.1L94.0,351.0L94.0,350.1L94.1,349.6L94.2,349.2L94.3,349.2L94.4,349.4L94.5,350.0L94.6,350.7L94.7,351.7L94.8,352.8L94.9,354.1L95.0,355.5L95.1,356.9L95.2,358.3L95.3,359.6L95.4,360.9L95.4,362.0L95.5,362.9L95.6,363.7L95.7,364.2L95.8,364.5L95.9,364.5L96.0,364.3L96.1,363.8L96.2,363.1L96.3,362.2L96.4,361.2L96.5,359.9L96.6,358.6L96.7,357.1L96.8,355.7L96.9,354.2L96.9,352.7L97.0,351.3L97.1,349.9L97.2,348.7L97.3,347.7L97.4,346.8L97.5,346.1L97.6,345.6L97.7,345.4L97.8,345.3L97.9,345.4L98.0,345.8L98.1,346.3L98.2,347.1L98.3,348.0L98.4,349.0L98.4,350.2L98.5,351.4L98.6,352.7L98.7,354.1L98.8,355.5L98.9,356.8L99.0,358.1L99.1,359.3L99.2,360.5L99.3,361.5L99.4,362.4L99.5,363.2L99.6,363.8L99.7,364.2L99.8,364.4L99.9,364.5L99.9,364.4L100.0,364.1L100.1,363.6L100.2,363.0L100.3,362.2L100.4,361.3L100.5,360.2L100.6,359.1L100.7,357.8L100.8,356.5L100.9,355.2L101.0,353.8L101.1,352.3L101.2,350.9L101.3,349.6L101.3,348.3L101.4,347.0L101.5,340.5L102.0,345.3L102.5,350.1L103.0,354.4L103.5,357.8L104.0,359.8L104.5,360.0L105.0,358.4L105.5,355.7L106.0,352.3L106.5,348.8L107.0,345.7L107.5,343.6L108.0,343.0L108.5,344.0L109.0,346.0L109.5,348.8L110.0,351.8L110.5,354.9L111.0,357.5L111.5,359.3L112.0,360.0L112.5,359.5L113.0,358.1L113.5,356.1L114.0,353.8L114.5,351.3L115.0,349.0L115.5,347.0L116.0,345.6L116.5,345.0L117.0,345.7L117.5,347.5L118.0,350.1L118.5,352.9L119.0,355.5L119.5,357.3L120.0,358.0L120.5,357.0L121.0,354.6L121.5,351.3L122.0,347.5L122.5,343.6L123.0,340.3L123.5,337.9L124.0,337.0L124.5,337.6L125.0,339.3L125.5,341.5L126.0,343.9L126.5,345.8L127.0,346.9L127.5,346.8L128.0,345.6L128.5,343.8L129.0,341.8L129.5,339.9L130.0,338.5L130.5,338.0L131.0,338.4L131.5,339.3L132.0,340.7L132.5,342.3L133.0,344.0L133.5,345.7L134.0,347.2L134.5,348.3L135.0,349.0L135.5,349.2L136.0,349.1L136.5,348.7L137.0,348.0L137.5,347.1L138.0,346.0L138.5,344.8L139.0,343.4L139.5,342.0L140.0,340.6L140.5,339.1L141.0,337.7L141.5,336.3L142.0,335.1L142.5,334.0L143.0,333.1L143.5,332.4L144.0,331.9L144.5,331.8L145.0,332.7L145.5,334.8L146.0,337.7L146.5,341.2L147.0,344.9L147.5,348.7L148.0,352.2L148.5,355.1L149.0,357.1L149.5,358.0L150.0,357.2L150.5,354.6L151.0,350.5L151.5,345.5L152.0,339.9L152.5,334.2L153.0,328.6L153.5,323.7L154.0,319.9L154.5,317.5L155.0,317.0L155.5,318.3L156.0,320.7L156.5,324.1L157.0,328.2L157.5,332.6L158.0,337.2L158.5,341.6L159.0,345.5L159.5,348.8L160.0,351.0L160.5,352.7L161.0,354.3L161.5,356.0L162.0,357.5L162.5,359.0L163.0,360.4L163.5,361.6L164.0,362.6L164.5,363.4L165.0,363.9L165.5,364.1L166.0,364.0L166.5,363.6L167.0,363.0L167.5,362.2L168.0,361.3L168.5,360.2L169.0,358.9L169.5,357.6L170.0,356.1L170.5,354.5L171.0,352.9L171.5,351.2L172.0,349.4L172.5,347.7L173.0,345.9L173.5,344.2L174.0,342.4L174.5,340.7L175.0,339.1L175.5,337.5L176.0,336.1L176.5,334.7L177.0,333.5L177.5,332.3L178.0,331.4L178.5,330.6L179.0,330.0L179.5,329.6L180.0,329.5L180.5,329.6L181.0,330.0L181.5,330.9L182.0,332.2L182.5,333.8L183.0,335.7L183.5,337.8L184.0,340.0L184.5,342.1L185.0,344.2L185.5,346.1L186.0,347.8L186.5,349.1L187.0,350.0L187.5,350.7L188.0,351.3L188.5,351.8L189.0,352.2L189.5,352.4L190.0,352.5L190.5,352.4L191.0,352.0L191.5,351.6L192.0,351.1L192.5,350.5L193.0,349.9L193.5,349.3L194.0,348.8L194.5,348.3L195.0,348.0L195.5,348.0L196.0,348.6L196.5,349.6L197.0,350.9L197.5,352.4L198.0,354.1L198.5,355.8L199.0,357.5L199.5,359.1L200.0,360.4L200.5,361.4L201.0,362.0L201.5,362.0L202.0,360.9L202.5,358.3L203.0,354.5L203.5,349.8L204.0,344.7L204.5,339.4L205.0,334.2L205.5,329.6L206.0,325.8L206.5,323.0L207.0,320.3L207.5,317.7L208.0,315.1L208.5,312.6L209.0,310.3L209.5,308.3L210.0,306.7L210.5,305.6L211.0,305.0L211.5,304.9L212.0,305.6L212.5,306.9L213.0,308.8L213.5,311.0L214.0,313.5L214.5,316.2L215.0,318.9L215.5,321.5L216.0,324.0L216.5,326.5L217.0,329.1L217.5,331.8L218.0,334.6L218.5,337.3L219.0,339.9L219.5,342.2L220.0,344.3L220.5,345.9L221.0,347.3L221.5,348.5L222.0,349.7L222.5,350.8L223.0,351.8L223.5,352.7L224.0,353.6L224.5,354.3L225.0,355.0L225.5,355.5L226.0,355.8L226.5,356.0L227.0,356.1L227.5,356.0L228.0,355.7L228.5,355.3L229.0,354.8L229.5,354.2L230.0,353.6L230.5,352.9L231.0,352.2L231.5,351.6L232.0,351.0L232.5,350.6L233.0,350.2L233.5,350.0L234.0,350.0L234.5,350.1L235.0,350.4L235.5,350.8L236.0,351.2L236.5,351.7L237.0,352.3L237.5,352.9L238.0,353.6L238.5,354.3L239.0,355.0L239.5,355.7L240.0,356.5L240.5,357.2L241.0,357.8L241.5,358.5L242.0,359.1L242.5,359.6L243.0,360.1L243.5,360.5L244.0,360.8L244.5,360.9L245.0,361.0L245.5,361.0L246.0,360.8L246.5,360.6L247.0,360.3L247.5,359.9L248.0,359.5L248.5,359.0L249.0,358.5L249.5,357.9L250.0,357.3L250.5,356.7L251.0,356.0L251.5,355.4L252.0,354.7L252.5,354.1L253.0,353.5L253.5,352.9L254.0,352.3L254.5,351.8L255.0,351.4L255.5,350.9L256.0,350.6L256.5,350.3L257.0,350.1L257.5,350.0L258.0,350.0L258.5,350.1L259.0,350.3L259.5,350.5L260.0,350.8L260.5,351.2L261.0,351.7L261.5,352.2L262.0,352.7L262.5,353.3L263.0,353.8L263.5,354.4L264.0,355.1L264.5,355.7L265.0,356.3L265.5,356.8L266.0,357.4L266.5,357.9L267.0,358.4L267.5,358.8L268.0,359.2L268.5,359.5L269.0,359.8L269.5,359.9L270.0,360.0L270.5,360.0L271.0,359.9L271.5,359.7L272.0,359.5L272.5,359.2L273.0,358.9L273.5,358.5L274.0,358.1L274.5,357.7L275.0,357.2L275.5,356.8L276.0,356.3L276.5,355.8L277.0,355.4L277.5,355.0L278.0,354.5L278.5,354.2L279.0,353.8L279.5,353.5L280.0,353.3L280.5,353.1L281.0,353.0L281.5,353.0L282.0,353.1L282.5,353.2L283.0,353.5L283.5,353.8L284.0,354.2L284.5,354.6L285.0,355.1L285.5,355.6L286.0,356.2L286.5,356.8L287.0,357.4L287.5,358.0L288.0,358.5L288.5,359.1L289.0,359.6L289.5,360.2L290.0,360.6L290.5,361.0L291.0,361.4L291.5,361.7L292.0,361.9L292.5,362.0L293.0,362.0L293.5,361.9L294.0,361.7L294.5,361.4L295.0,361.0L295.5,360.6L296.0,360.0L296.5,359.4L297.0,358.7L297.5,357.9L298.0,357.0L298.5,356.1L299.0,355.2L299.5,354.2L300.0,353.1L300.5,352.0L301.0,350.9L301.5,349.7L302.0,348.6L302.5,347.4L303.0,346.1L303.5,344.9L304.0,343.7L304.5,342.5L305.0,341.3L305.5,340.0L306.0,338.9L306.5,337.7L307.0,336.5L307.5,335.4L308.0,334.3L308.5,333.3L309.0,332.3L309.5,331.4L310.0,330.5L310.5,329.7L311.0,328.9L311.5,328.2L312.0,327.6L312.5,327.1L313.0,326.6L313.5,326.3L314.0,326.0L314.5,325.8L315.0,325.8L315.5,325.9L316.0,326.0L316.5,326.3L317.0,326.6L317.5,327.1L318.0,327.5L318.5,328.1L319.0,328.7L319.5,329.3L320.0,330.0L320.5,330.7L321.0,331.5L321.5,332.3L322.0,333.2L322.5,334.1L323.0,335.1L323.5,336.1L324.0,337.1L324.5,338.1L325.0,339.1L325.5,340.1L326.0,341.1L326.5,342.1L327.0,343.1L327.5,344.1L328.0,345.0L328.5,345.9L329.0,346.9L329.5,347.9L330.0,348.9L330.5,350.0L331.0,351.0L331.5,352.0L332.0,353.0L332.5,354.0L333.0,354.9L333.5,355.8L334.0,356.6L334.5,357.3L335.0,358.0L335.5,358.5L336.0,359.0L336.5,359.4L337.0,359.7L337.5,360.1L338.0,360.4L338.5,360.6L339.0,360.8L339.5,361.0L340.0,361.1L340.5,361.1L341.0,361.2L341.5,361.1L342.0,361.0L342.5,360.8L343.0,360.7L343.5,360.4L344.0,360.2L344.5,359.9L345.0,359.7L345.5,359.4L346.0,359.0L346.5,358.7L347.0,358.4L347.5,358.0L348.0,357.7L348.5,357.3L349.0,356.9L349.5,356.6L350.0,356.2L350.5,355.9L351.0,355.5L351.5,355.2L352.0,354.9L352.5,354.6L353.0,354.3L353.5,354.0L354.0,353.8L354.5,353.6L355.0,353.4L355.5,353.3L356.0,353.1L356.5,353.0L357.0,353.0L357.5,353.0L358.0,353.0L358.5,353.1L359.0,353.1L359.5,353.2L360.0,353.4L360.5,353.5L361.0,353.7L361.5,353.9L362.0,354.2L362.5,354.4L363.0,354.7L363.5,354.9L364.0,355.2L364.5,355.5L365.0,355.8L365.5,356.2L366.0,356.5L366.5,356.9L367.0,357.2L367.5,357.6L368.0,357.9L368.5,358.3L369.0,358.6L369.5,359.0L370.0,359.4L370.5,359.7L371.0,360.1L371.5,360.4L372.0,360.8L372.5,361.1L373.0,361.4L373.5,361.7L374.0,362.0L374.5,362.3L375.0,362.6L375.5,362.8L376.0,363.0L376.5,363.2L377.0,363.4L377.5,363.6L378.0,363.7L378.5,363.8L379.0,363.9L379.5,364.0L380.0,364.0L380.5,364.0L381.0,364.0L381.5,363.9L382.0,363.8L382.5,363.7L383.0,363.5L383.5,363.3L384.0,363.1L384.5,362.9L385.0,362.7L385.5,362.4L386.0,362.1L386.5,361.8L387.0,361.5L387.5,361.1L388.0,360.8L388.5,360.4L389.0,360.0L389.5,359.6L390.0,359.2L390.5,358.8L391.0,358.4L391.5,358.0L392.0,357.6L392.5,357.1L393.0,356.7L393.5,356.3L394.0,355.9L394.5,355.4L395.0,355.0L395.5,354.6L396.0,354.2L396.5,353.8L397.0,353.4L397.5,353.0L398.0,352.6L398.5,352.2L399.0,351.9L399.5,351.5L400.0,351.2L400.5,350.9L401.0,350.6L401.5,350.3L402.0,350.1L402.5,349.9L403.0,349.7L403.5,349.5L404.0,349.3L404.5,349.2L405.0,349.1L405.5,349.0L406.0,349.0L406.5,349.0L407.0,349.0L407.5,349.1L408.0,349.2L408.5,349.3L409.0,349.4L409.5,349.6L410.0,349.8L410.5,350.1L411.0,350.3L411.5,350.6L412.0,350.9L412.5,351.2L413.0,351.6L413.5,351.9L414.0,352.3L414.5,352.7L415.0,353.1L415.5,353.5L416.0,353.9L416.5,354.3L417.0,354.8L417.5,355.2L418.0,355.7L418.5,356.1L419.0,356.6L419.5,357.0L420.0,357.5L420.5,357.9L421.0,358.4L421.5,358.8L422.0,359.3L422.5,359.7L423.0,360.1L423.5,360.5L424.0,360.9L424.5,361.3L425.0,361.7L425.5,362.0L426.0,362.4L426.5,362.7L427.0,363.0L427.5,363.2L428.0,363.5L428.5,363.7L429.0,363.9L429.5,364.2L430.0,364.3L430.5,364.5L431.0,364.5L431.5,364.5L432.0,364.5L432.5,364.5L433.0,364.5L433.5,364.5L434.0,364.5L434.5,364.5L435.0,364.5L435.5,364.5L436.0,364.5L436.5,364.5L437.0,364.5L437.5,364.3L438.0,364.0L438.5,363.7L439.0,363.2L439.5,362.7L440.0,362.1L440.5,361.4L441.0,360.6L441.5,359.8L442.0,358.9L442.5,357.9L443.0,356.9L443.5,355.9L444.0,354.8L444.5,353.8L445.0,352.7L445.5,351.6L446.0,350.5L446.5,349.5L447.0,348.4L447.5,347.4L448.0,346.4L448.5,345.5L449.0,344.6L449.5,343.8L450.0,343.0L450.5,342.3L451.0,341.5L451.5,340.8L452.0,340.0L452.5,339.3L453.0,338.6L453.5,337.8L454.0,337.1L454.5,336.4L455.0,335.7L455.5,335.0L456.0,334.4L456.5,333.7L457.0,333.2L457.5,332.6L458.0,332.1L458.5,331.7L459.0,331.2L459.5,330.9L460.0,330.6L460.5,330.3L461.0,330.2L461.5,330.0L462.0,330.0L462.5,330.1L463.0,330.3L463.5,330.8L464.0,331.3L464.5,332.0L465.0,332.8L465.5,333.6L466.0,334.6L466.5,335.6L467.0,336.7L467.5,337.7L468.0,338.8L468.5,339.9L469.0,341.0L469.5,342.0L470.0,343.0L470.5,344.1L471.0,345.4L471.5,347.0L472.0,348.6L472.5,350.4L473.0,352.1L473.5,353.9L474.0,355.5L474.5,356.9L475.0,358.2L475.5,359.1L476.0,359.8L476.5,360.0L477.0,359.6L477.5,358.4L478.0,356.6L478.5,354.3L479.0,351.7L479.5,348.7L480.0,345.5L480.5,342.2L481.0,339.0L481.5,335.9L482.0,333.0L482.5,330.2L483.0,327.4L483.5,324.5L484.0,321.5L484.5,318.5L485.0,315.5L485.5,312.4L486.0,309.3L486.5,306.2L487.0,303.0L487.5,299.8L488.0,296.4L488.5,292.9L489.0,289.5L489.5,286.2L490.0,283.0L490.5,280.0L491.0,277.0L491.5,274.2L492.0,271.3L492.5,268.5L493.0,265.7L493.5,262.9L494.0,260.0L494.5,257.0L495.0,253.8L495.5,250.6L496.0,247.4L496.5,244.1L497.0,241.0L497.5,237.9L498.0,235.0L498.5,232.4L499.0,230.0L499.5,227.8L500.0,225.6L500.5,223.5L501.0,221.4L501.5,219.5L502.0,217.6L502.5,215.9L503.0,214.3L503.5,213.0L504.0,211.8L504.5,210.8L505.0,210.0L505.5,209.4L506.0,208.7L506.5,208.1L507.0,207.6L507.5,207.1L508.0,206.6L508.5,206.2L509.0,205.8L509.5,205.5L510.0,205.2L510.5,205.1L511.0,205.0L511.5,205.0L512.0,205.1L512.5,205.3L513.0,205.5L513.5,205.8L514.0,206.2L514.5,206.7L515.0,207.2L515.5,207.8L516.0,208.5L516.5,209.2L517.0,210.0L517.5,211.2L518.0,212.9L518.5,215.0L519.0,217.3L519.5,219.7L520.0,222.0L520.5,224.2L521.0,226.4L521.5,228.8L522.0,231.1L522.5,233.5L523.0,236.0L523.5,238.5L524.0,241.1L524.5,243.8L525.0,246.5L525.5,249.3L526.0,252.1L526.5,254.8L527.0,257.6L527.5,260.3L528.0,262.9L528.5,265.5L529.0,268.0L529.5,270.5L530.0,272.9L530.5,275.4L531.0,277.8L531.5,280.2L532.0,282.6L532.5,284.8L533.0,287.1L533.5,289.2L534.0,291.3L534.5,293.2L535.0,295.0L535.5,296.7L536.0,298.2" stroke="#77ac30" stroke-width="3.2" stroke-dasharray="13,3.2,5.5,3.2"/>
</g>
<line x1="487.7" y1="13.5" x2="487.7" y2="364.5" stroke="#606060" stroke-width="1"/>
<g stroke="#505050" stroke-width="0.9" fill="none"><line x1="68.2" y1="364.5" x2="68.2" y2="359.5"/><line x1="68.2" y1="13.5" x2="68.2" y2="18.5"/><line x1="161.8" y1="364.5" x2="161.8" y2="359.5"/><line x1="161.8" y1="13.5" x2="161.8" y2="18.5"/><line x1="255.5" y1="364.5" x2="255.5" y2="359.5"/><line x1="255.5" y1="13.5" x2="255.5" y2="18.5"/><line x1="349.1" y1="364.5" x2="349.1" y2="359.5"/><line x1="349.1" y1="13.5" x2="349.1" y2="18.5"/><line x1="442.8" y1="364.5" x2="442.8" y2="359.5"/><line x1="442.8" y1="13.5" x2="442.8" y2="18.5"/><line x1="536.4" y1="364.5" x2="536.4" y2="359.5"/><line x1="536.4" y1="13.5" x2="536.4" y2="18.5"/><line x1="68.2" y1="364.5" x2="73.2" y2="364.5"/><line x1="536.4" y1="364.5" x2="531.4" y2="364.5"/><line x1="68.2" y1="325.5" x2="73.2" y2="325.5"/><line x1="536.4" y1="325.5" x2="531.4" y2="325.5"/><line x1="68.2" y1="286.5" x2="73.2" y2="286.5"/><line x1="536.4" y1="286.5" x2="531.4" y2="286.5"/><line x1="68.2" y1="247.5" x2="73.2" y2="247.5"/><line x1="536.4" y1="247.5" x2="531.4" y2="247.5"/><line x1="68.2" y1="208.5" x2="73.2" y2="208.5"/><line x1="536.4" y1="208.5" x2="531.4" y2="208.5"/><line x1="68.2" y1="169.5" x2="73.2" y2="169.5"/><line x1="536.4" y1="169.5" x2="531.4" y2="169.5"/><line x1="68.2" y1="130.5" x2="73.2" y2="130.5"/><line x1="536.4" y1="130.5" x2="531.4" y2="130.5"/><line x1="68.2" y1="91.5" x2="73.2" y2="91.5"/><line x1="536.4" y1="91.5" x2="531.4" y2="91.5"/><line x1="68.2" y1="52.5" x2="73.2" y2="52.5"/><line x1="536.4" y1="52.5" x2="531.4" y2="52.5"/><line x1="68.2" y1="13.5" x2="73.2" y2="13.5"/><line x1="536.4" y1="13.5" x2="531.4" y2="13.5"/><rect x="68.2" y="13.5" width="468.2" height="351.0"/></g>
<line x1="85.2" y1="46.7" x2="119.8" y2="46.7" stroke="#ff0000" stroke-width="3.3"/>
<line x1="85.2" y1="75.1" x2="119.8" y2="75.1" stroke="#0072bd" stroke-width="3.3"/>
<line x1="85.2" y1="103.5" x2="119.8" y2="103.5" stroke="#77ac30" stroke-width="3.3" stroke-dasharray="13,3.2,6.4,3.2"/>
<g>
<text x="53.60" y="370.30" font-size="17px" fill="#262626" stroke="#262626" stroke-width="0.10">0</text>
<text x="37.50" y="331.30" font-size="17px" fill="#262626" stroke="#262626" stroke-width="0.10" textLength="26.00" lengthAdjust="spacingAndGlyphs">0.1</text>
<text x="37.50" y="292.30" font-size="17px" fill="#262626" stroke="#262626" stroke-width="0.10" textLength="25.00" lengthAdjust="spacingAndGlyphs">0.2</text>
<text x="37.50" y="253.30" font-size="17px" fill="#262626" stroke="#262626" stroke-width="0.10" textLength="25.00" lengthAdjust="spacingAndGlyphs">0.3</text>
<text x="37.50" y="214.30" font-size="17px" fill="#262626" stroke="#262626" stroke-width="0.10" textLength="25.00" lengthAdjust="spacingAndGlyphs">0.4</text>
<text x="37.50" y="175.30" font-size="17px" fill="#262626" stroke="#262626" stroke-width="0.10" textLength="25.00" lengthAdjust="spacingAndGlyphs">0.5</text>
<text x="37.50" y="136.30" font-size="17px" fill="#262626" stroke="#262626" stroke-width="0.10" textLength="25.00" lengthAdjust="spacingAndGlyphs">0.6</text>
<text x="37.50" y="97.30" font-size="17px" fill="#262626" stroke="#262626" stroke-width="0.10" textLength="25.00" lengthAdjust="spacingAndGlyphs">0.7</text>
<text x="37.50" y="58.30" font-size="17px" fill="#262626" stroke="#262626" stroke-width="0.10" textLength="25.00" lengthAdjust="spacingAndGlyphs">0.8</text>
<text x="37.50" y="19.30" font-size="17px" fill="#262626" stroke="#262626" stroke-width="0.10" textLength="25.00" lengthAdjust="spacingAndGlyphs">0.9</text>
<text x="64.20" y="385.90" font-size="17px" fill="#262626" stroke="#262626" stroke-width="0.10">0</text>
<text x="151.70" y="385.90" font-size="17px" fill="#262626" stroke="#262626" stroke-width="0.10" textLength="19.00" lengthAdjust="spacingAndGlyphs">10</text>
<text x="245.90" y="385.90" font-size="17px" fill="#262626" stroke="#262626" stroke-width="0.10" textLength="19.00" lengthAdjust="spacingAndGlyphs">20</text>
<text x="340.10" y="385.90" font-size="17px" fill="#262626" stroke="#262626" stroke-width="0.10" textLength="18.00" lengthAdjust="spacingAndGlyphs">30</text>
<text x="433.30" y="385.90" font-size="17px" fill="#262626" stroke="#262626" stroke-width="0.10" textLength="19.00" lengthAdjust="spacingAndGlyphs">40</text>
<text x="526.50" y="385.90" font-size="17px" fill="#262626" stroke="#262626" stroke-width="0.10" textLength="19.00" lengthAdjust="spacingAndGlyphs">50</text>
<text x="153.50" y="406.90" font-size="19.5px" fill="#262626" stroke="#262626" stroke-width="0.10" textLength="74.50" lengthAdjust="spacingAndGlyphs">Guessed</text>
<text x="235.00" y="406.90" font-size="19.5px" fill="#262626" stroke="#262626" stroke-width="0.10" textLength="43.50" lengthAdjust="spacingAndGlyphs">Fault</text>
<text x="285.00" y="406.90" font-size="19.5px" fill="#262626" stroke="#262626" stroke-width="0.10" textLength="75.50" lengthAdjust="spacingAndGlyphs">Location</text>
<text x="366.50" y="406.90" font-size="19.5px" fill="#262626" stroke="#262626" stroke-width="0.10">(</text>
<text x="372.55" y="406.90" font-size="19.5px" fill="#262626" stroke="#262626" stroke-width="0.10">x</text>
<text x="383.15" y="415.40" font-size="15.5px" fill="#262626" stroke="#262626" stroke-width="0.10">g</text>
<text x="390.80" y="406.90" font-size="19.5px" fill="#262626" stroke="#262626" stroke-width="0.10">)</text>
<text x="409.50" y="406.90" font-size="19.5px" fill="#262626" stroke="#262626" stroke-width="0.10" textLength="39.00" lengthAdjust="spacingAndGlyphs">[km]</text>
<text transform="translate(20.80,344.50) rotate(-90)" font-size="19.5px" fill="#262626" stroke="#262626" stroke-width="0.10" textLength="100.00" lengthAdjust="spacingAndGlyphs">Correlation</text>
<text transform="translate(20.80,239.00) rotate(-90)" font-size="19.5px" fill="#262626" stroke="#262626" stroke-width="0.10" textLength="99.00" lengthAdjust="spacingAndGlyphs">Coefficient</text>
<text transform="translate(20.80,135.50) rotate(-90)" font-size="19.5px" fill="#262626" stroke="#262626" stroke-width="0.10" textLength="48.50" lengthAdjust="spacingAndGlyphs">value</text>
<text transform="translate(20.80,80.50) rotate(-90)" font-size="19.5px" fill="#262626" stroke="#262626" stroke-width="0.10" textLength="47.50" lengthAdjust="spacingAndGlyphs">(CCv)</text>
<text x="127.00" y="52.20" font-size="16.5px" fill="#ff0000" stroke="#ff0000" stroke-width="0.10" textLength="59.00" lengthAdjust="spacingAndGlyphs">Phase a:</text>
<text x="198.00" y="51.50" font-size="15.5px" fill="#ff0000" stroke="#ff0000" stroke-width="0.10" textLength="110.50" lengthAdjust="spacingAndGlyphs">CCv = 0.8416, x</text>
<text x="307.65" y="57.80" font-size="12.5px" fill="#ff0000" stroke="#ff0000" stroke-width="0.10">g</text>
<text x="319.00" y="51.50" font-size="15.5px" fill="#ff0000" stroke="#ff0000" stroke-width="0.10" textLength="78.50" lengthAdjust="spacingAndGlyphs">= 43.90 km</text>
<text x="127.00" y="80.50" font-size="16.5px" fill="#0072bd" stroke="#0072bd" stroke-width="0.10" textLength="59.00" lengthAdjust="spacingAndGlyphs">Phase b:</text>
<text x="200.00" y="81.60" font-size="15.5px" fill="#0072bd" stroke="#0072bd" stroke-width="0.10" textLength="109.00" lengthAdjust="spacingAndGlyphs">CCv = 0.4870, x</text>
<text x="309.25" y="87.90" font-size="12.5px" fill="#0072bd" stroke="#0072bd" stroke-width="0.10">g</text>
<text x="320.50" y="81.60" font-size="15.5px" fill="#0072bd" stroke="#0072bd" stroke-width="0.10" textLength="78.50" lengthAdjust="spacingAndGlyphs">= 46.90 km</text>
<text x="127.00" y="108.90" font-size="16.5px" fill="#77ac30" stroke="#77ac30" stroke-width="0.10" textLength="59.00" lengthAdjust="spacingAndGlyphs">Phase c:</text>
<text x="200.00" y="110.20" font-size="15.5px" fill="#77ac30" stroke="#77ac30" stroke-width="0.10" textLength="109.00" lengthAdjust="spacingAndGlyphs">CCv = 0.4059, x</text>
<text x="309.25" y="116.50" font-size="12.5px" fill="#77ac30" stroke="#77ac30" stroke-width="0.10">g</text>
<text x="320.50" y="110.20" font-size="15.5px" fill="#77ac30" stroke="#77ac30" stroke-width="0.10" textLength="78.50" lengthAdjust="spacingAndGlyphs">= 47.30 km</text>
</g>
</svg></body></html>
